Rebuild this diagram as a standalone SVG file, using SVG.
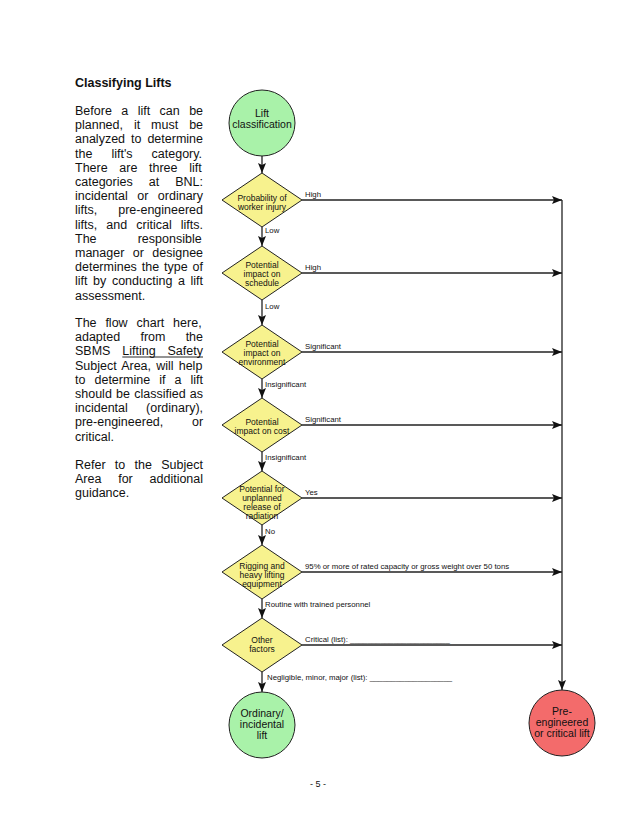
<svg xmlns="http://www.w3.org/2000/svg" width="638" height="826" viewBox="0 0 638 826">
<style>
.body{font-family:"Liberation Sans",Arial,sans-serif;font-size:12.5px;fill:#111}
.title{font-family:"Liberation Sans",Arial,sans-serif;font-size:12.5px;font-weight:bold;fill:#111}
.nt{font-family:"Liberation Sans",Arial,sans-serif;font-size:8.5px;fill:#111;text-anchor:middle}
.ct{font-family:"Liberation Sans",Arial,sans-serif;font-size:10.5px;fill:#111;text-anchor:middle}
.lb{font-family:"Liberation Sans",Arial,sans-serif;font-size:7.8px;fill:#111}
.dia{fill:#f7f28e;stroke:#222;stroke-width:1}
.green{fill:#a9f2a9;stroke:#222;stroke-width:1}
.red{fill:#f36b6b;stroke:#222;stroke-width:1}
.con{stroke:#222;stroke-width:1.3;fill:none}
</style>
<defs>
<marker id="arr" markerUnits="userSpaceOnUse" markerWidth="10" markerHeight="8" refX="10" refY="4" orient="auto">
<path d="M0,0 L10,4 L0,8 L2,4 z" fill="#111"/>
</marker>
</defs>
<rect width="638" height="826" fill="#fff"/>

<g id="sidebar">
<text class="title" x="75" y="87">Classifying Lifts</text>
<text class="body" x="75" y="115" style="word-spacing:5.95px">Before a lift can be</text>
<text class="body" x="75" y="129.2" style="word-spacing:7.47px">planned, it must be</text>
<text class="body" x="75" y="143.4" style="word-spacing:2.5px">analyzed to determine</text>
<text class="body" x="75" y="157.6" style="word-spacing:15.56px">the lift's category.</text>
<text class="body" x="75" y="171.8" style="word-spacing:8.17px">There are three lift</text>
<text class="body" x="75" y="186" style="word-spacing:12.6px">categories at BNL:</text>
<text class="body" x="75" y="200.2" style="word-spacing:6px">incidental or ordinary</text>
<text class="body" x="75" y="214.4" style="word-spacing:17.5px">lifts, pre-engineered</text>
<text class="body" x="75" y="228.6" style="word-spacing:5.63px">lifts, and critical lifts.</text>
<text class="body" x="75" y="242.8" style="word-spacing:37.7px">The responsible</text>
<text class="body" x="75" y="257" style="word-spacing:4.95px">manager or designee</text>
<text class="body" x="75" y="271.2" style="word-spacing:1.43px">determines the type of</text>
<text class="body" x="75" y="285.4" style="word-spacing:2.12px">lift by conducting a lift</text>
<text class="body" x="75" y="299.6">assessment.</text>

<text class="body" x="75" y="327" style="word-spacing:5.38px">The flow chart here,</text>
<text class="body" x="75" y="341.2" style="word-spacing:16.75px">adapted from the</text>
<text class="body" x="75" y="355.4" style="word-spacing:8.4px">SBMS Lifting Safety</text>
<line x1="122.3" y1="357" x2="203" y2="357" stroke="#111" stroke-width="0.9"/>
<text class="body" x="75" y="369.6" style="word-spacing:1.68px">Subject Area, will help</text>
<text class="body" x="75" y="383.8" style="word-spacing:5.6px">to determine if a lift</text>
<text class="body" x="75" y="398" style="word-spacing:0.75px">should be classified as</text>
<text class="body" x="75" y="412.2" style="word-spacing:14.8px">incidental (ordinary),</text>
<text class="body" x="75" y="426.4" style="word-spacing:25.2px">pre-engineered, or</text>
<text class="body" x="75" y="440.6">critical.</text>

<text class="body" x="75" y="469" style="word-spacing:5.83px">Refer to the Subject</text>
<text class="body" x="75" y="483.2" style="word-spacing:13.3px">Area for additional</text>
<text class="body" x="75" y="497.4">guidance.</text>
</g>

<g id="connectors">
<line class="con" x1="262" y1="156" x2="262" y2="173" marker-end="url(#arr)"/>
<line class="con" x1="262" y1="227" x2="262" y2="246" marker-end="url(#arr)"/>
<line class="con" x1="262" y1="300" x2="262" y2="325" marker-end="url(#arr)"/>
<line class="con" x1="262" y1="379" x2="262" y2="398" marker-end="url(#arr)"/>
<line class="con" x1="262" y1="452" x2="262" y2="471" marker-end="url(#arr)"/>
<line class="con" x1="262" y1="525" x2="262" y2="545" marker-end="url(#arr)"/>
<line class="con" x1="262" y1="599" x2="262" y2="618" marker-end="url(#arr)"/>
<line class="con" x1="262" y1="672" x2="262" y2="692" marker-end="url(#arr)"/>

<line class="con" x1="302" y1="200" x2="562" y2="200" marker-end="url(#arr)"/>
<line class="con" x1="302" y1="273" x2="562" y2="273" marker-end="url(#arr)"/>
<line class="con" x1="302" y1="352" x2="562" y2="352" marker-end="url(#arr)"/>
<line class="con" x1="302" y1="425" x2="562" y2="425" marker-end="url(#arr)"/>
<line class="con" x1="302" y1="498" x2="562" y2="498" marker-end="url(#arr)"/>
<line class="con" x1="302" y1="572" x2="562" y2="572" marker-end="url(#arr)"/>
<line class="con" x1="302" y1="645" x2="562" y2="645" marker-end="url(#arr)"/>
<line class="con" x1="562" y1="200" x2="562" y2="690" marker-end="url(#arr)"/>

<text class="lb" x="305" y="197">High</text>
<text class="lb" x="305" y="270">High</text>
<text class="lb" x="305" y="349">Significant</text>
<text class="lb" x="305" y="422">Significant</text>
<text class="lb" x="305" y="495">Yes</text>
<text class="lb" x="305" y="569">95% or more of rated capacity or gross weight over 50 tons</text>
<text class="lb" x="305" y="642">Critical (list): _______________________</text>

<text class="lb" x="265" y="233">Low</text>
<text class="lb" x="265" y="309">Low</text>
<text class="lb" x="265" y="387">Insignificant</text>
<text class="lb" x="265" y="460">Insignificant</text>
<text class="lb" x="265" y="534">No</text>
<text class="lb" x="265" y="607">Routine with trained personnel</text>
<text class="lb" x="267" y="680">Negligible, minor, major (list): ___________________</text>
</g>

<g id="start">
<circle class="green" cx="262" cy="123" r="33"/>
<text class="ct" x="262" y="117">Lift</text>
<text class="ct" x="262" y="128">classification</text>
</g>

<g id="d1">
<polygon class="dia" points="262,173 302,200 262,227 222,200"/>
<text class="nt" x="262" y="201">Probability of</text>
<text class="nt" x="262" y="210">worker injury</text>
</g>

<g id="d2">
<polygon class="dia" points="262,246 302,273 262,300 222,273"/>
<text class="nt" x="262" y="268">Potential</text>
<text class="nt" x="262" y="277">impact on</text>
<text class="nt" x="262" y="286">schedule</text>
</g>

<g id="d3">
<polygon class="dia" points="262,325 302,352 262,379 222,352"/>
<text class="nt" x="262" y="347">Potential</text>
<text class="nt" x="262" y="356">impact on</text>
<text class="nt" x="262" y="364.5">environment</text>
</g>

<g id="d4">
<polygon class="dia" points="262,398 302,425 262,452 222,425"/>
<text class="nt" x="262" y="425">Potential</text>
<text class="nt" x="262" y="434">impact on cost</text>
</g>

<g id="d5">
<polygon class="dia" points="262,471 302,498 262,525 222,498"/>
<text class="nt" x="262" y="492">Potential for</text>
<text class="nt" x="262" y="501">unplanned</text>
<text class="nt" x="262" y="510">release of</text>
<text class="nt" x="262" y="519">radiation</text>
</g>

<g id="d6">
<polygon class="dia" points="262,545 302,572 262,599 222,572"/>
<text class="nt" x="262" y="569">Rigging and</text>
<text class="nt" x="262" y="578">heavy lifting</text>
<text class="nt" x="262" y="587">equipment</text>
</g>

<g id="d7">
<polygon class="dia" points="262,618 302,645 262,672 222,645"/>
<text class="nt" x="262" y="643">Other</text>
<text class="nt" x="262" y="652">factors</text>
</g>

<g id="ordinary">
<circle class="green" cx="262" cy="725" r="33"/>
<text class="ct" x="262" y="717">Ordinary/</text>
<text class="ct" x="262" y="728">incidental</text>
<text class="ct" x="262" y="739">lift</text>
</g>

<g id="critical">
<circle class="red" cx="562" cy="723" r="33"/>
<text class="ct" x="562" y="715">Pre-</text>
<text class="ct" x="562" y="726">engineered</text>
<text class="ct" x="562" y="737">or critical lift</text>
</g>

<text x="318" y="787" style="font-family:'Liberation Sans',Arial,sans-serif;font-size:9px;fill:#111;text-anchor:middle">- 5 -</text>
</svg>
